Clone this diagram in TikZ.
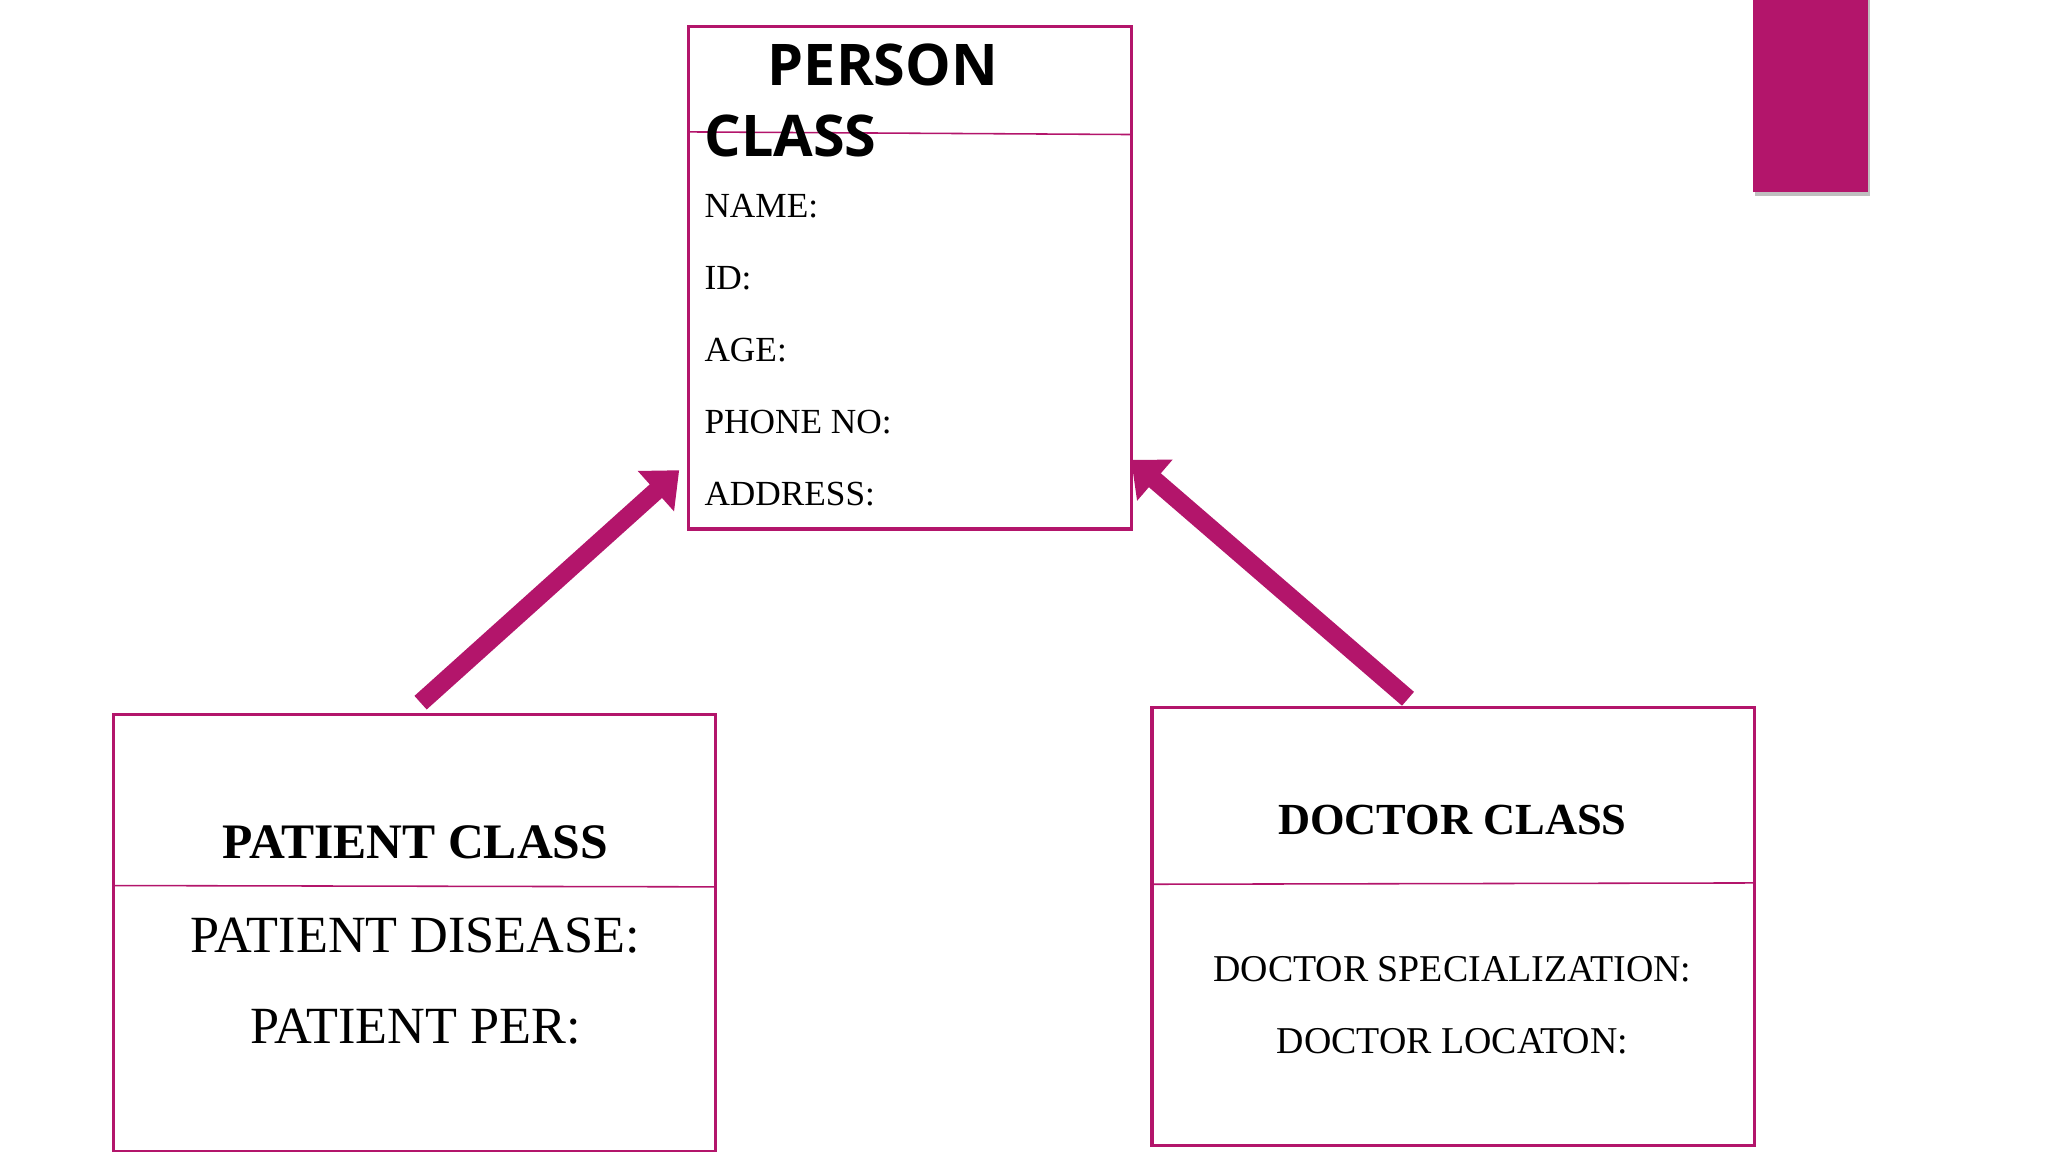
\documentclass[tikz,border=0pt]{standalone}
\usepackage{fontspec}
\setmainfont{Liberation Serif}
\newfontfamily\titlefont{Open Sans}
\usetikzlibrary{arrows.meta}
\definecolor{mag}{HTML}{B3156B}
\tikzset{box/.style={draw=mag,line width=1.2pt},
 sep/.style={draw=mag,line width=0.6pt},
 fld/.style={anchor=west,inner sep=0,font=\fontsize{13.5}{16}\selectfont},
 arr/.style={draw=mag,line width=7pt,-{Triangle[length=12pt,width=20pt]}}}
\begin{document}
\begin{tikzpicture}[x=0.5pt,y=-0.5pt]
\useasboundingbox (0,0) rectangle (1568,882);
\fill[gray!50] (1344,0) rectangle (1432,150);
\fill[mag] (1342,0) rectangle (1430,147);
% person
\draw[box] (527,20) rectangle (866,405);
\draw[sep] (527,101) -- (866,103);
\node[inner sep=0,font=\titlefont\bfseries\fontsize{22}{26}\selectfont] (pt) at (676,50) {PERSON};
\node[anchor=west,inner sep=0,font=\titlefont\bfseries\fontsize{22}{26}\selectfont] (pc) at (539,104) {CLASS};
\node[fld] (n1) at (539,158) {NAME:};
\node[fld] (n2) at (539,213) {ID:};
\node[fld] (n3) at (539,268) {AGE:};
\node[fld] (n4) at (539,323) {PHONE NO:};
\node[fld] (n5) at (539,378) {ADDRESS:};
\coordinate (pl) at (520,360);
\coordinate (pr) at (866,352);
% patient
\draw[box] (87,547) rectangle (548,882);
\draw[sep] (87,678) -- (548,679);
\node[font=\bfseries\fontsize{19}{22}\selectfont] (pa) at (318,645) {PATIENT CLASS};
\node[font=\fontsize{20}{24}\selectfont] (pa1) at (318,716) {PATIENT DISEASE:};
\node[font=\fontsize{20}{24}\selectfont] (pa2) at (318,786) {PATIENT PER:};
\coordinate (pat) at (322,538);
% doctor
\draw[box] (882,542) rectangle (1343,877);
\draw[sep] (882,677) -- (1343,676);
\node[font=\bfseries\fontsize{17}{20}\selectfont] (dc) at (1112,628) {DOCTOR CLASS};
\node[font=\fontsize{14.5}{17}\selectfont] (d1) at (1112,742) {DOCTOR SPECIALIZATION:};
\node[font=\fontsize{14.5}{17}\selectfont] (d2) at (1112,797) {DOCTOR LOCATON:};
\coordinate (doc) at (1078,535);
\draw[arr] (pat) -- (pl);
\draw[arr] (doc) -- (pr);
\end{tikzpicture}
\end{document}
